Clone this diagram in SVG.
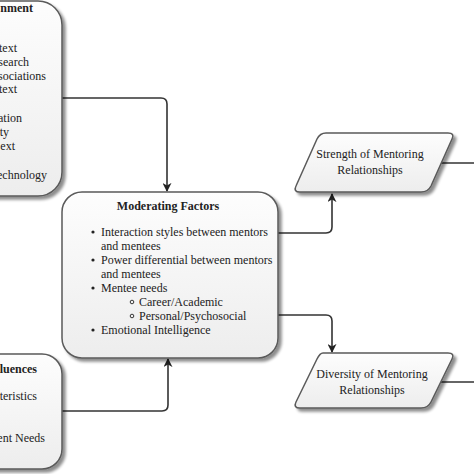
<svg xmlns="http://www.w3.org/2000/svg" width="474" height="474" viewBox="0 0 474 474">
<defs>
<linearGradient id="fillg" x1="0" y1="0" x2="0" y2="1">
<stop offset="0" stop-color="#fdfdfd"/>
<stop offset="1" stop-color="#ededed"/>
</linearGradient>
<filter id="sh" x="-20%" y="-20%" width="140%" height="140%">
<feGaussianBlur in="SourceAlpha" stdDeviation="1.5"/>
<feOffset dx="2.5" dy="2.5" result="b"/>
<feComponentTransfer><feFuncA type="linear" slope="0.45"/></feComponentTransfer>
<feMerge><feMergeNode/><feMergeNode in="SourceGraphic"/></feMerge>
</filter>
<marker id="arr" viewBox="0 0 10 10" refX="9" refY="5" markerWidth="9" markerHeight="9" markerUnits="userSpaceOnUse" orient="auto">
<path d="M0,0 L10,5 L0,10 L3,5 Z" fill="#222"/>
</marker>
</defs>
<style>
.box{fill:url(#fillg);stroke:#5a5a5a;stroke-width:1.5;filter:url(#sh)}
.t{font-family:"Liberation Serif","Times New Roman",serif;font-size:12px;fill:#222}
.b{font-weight:bold}
.c{text-anchor:middle}
.e{text-anchor:end}
.con{fill:none;stroke:#333;stroke-width:1.6;marker-end:url(#arr)}
.ln{fill:none;stroke:#333;stroke-width:1.6}
</style>
<rect width="474" height="474" fill="#fff"/>

<g id="connectors">
<path class="con" d="M62,98 H161 Q167,98 167,104 V191"/>
<path class="con" d="M62,411 H162 Q168,411 168,405 V359"/>
<path class="con" d="M278,233 H326 Q332,233 332,227 V194"/>
<path class="con" d="M278,315 H326 Q332,315 332,321 V352"/>
<path class="ln" d="M441,163 H474"/>
<path class="ln" d="M441,382 H474"/>
</g>

<g id="environment">
<rect class="box" x="-160" y="1" width="222" height="195" rx="24"/>
<text class="t b e" x="33" y="12">nment</text>
<text class="t e" x="17" y="52">text</text>
<text class="t e" x="29" y="66">search</text>
<text class="t e" x="46" y="80">sociations</text>
<text class="t e" x="17" y="93">text</text>
<text class="t e" x="22" y="122">ation</text>
<text class="t e" x="9" y="136">ty</text>
<text class="t e" x="15" y="150">ext</text>
<text class="t e" x="47" y="179">echnology</text>
</g>

<g id="influences">
<rect class="box" x="-160" y="354" width="222" height="115" rx="20"/>
<text class="t b e" x="37" y="373">luences</text>
<text class="t e" x="37" y="400">teristics</text>
<text class="t e" x="45" y="442">ent Needs</text>
</g>

<g id="moderating">
<rect class="box" x="62" y="192" width="216" height="166" rx="20"/>
<text class="t b c" x="168" y="210">Moderating Factors</text>
<g class="t">
<circle cx="93" cy="232" r="1.6" fill="#222"/>
<text x="101" y="236">Interaction styles between mentors</text>
<text x="101" y="250">and mentees</text>
<circle cx="93" cy="260" r="1.6" fill="#222"/>
<text x="101" y="264">Power differential between mentors</text>
<text x="101" y="278">and mentees</text>
<circle cx="93" cy="288" r="1.6" fill="#222"/>
<text x="101" y="292">Mentee needs</text>
<circle cx="132" cy="302" r="1.8" fill="none" stroke="#222" stroke-width="0.9"/>
<text x="139" y="306">Career/Academic</text>
<circle cx="132" cy="316" r="1.8" fill="none" stroke="#222" stroke-width="0.9"/>
<text x="139" y="320">Personal/Psychosocial</text>
<circle cx="93" cy="330" r="1.6" fill="#222"/>
<text x="101" y="334">Emotional Intelligence</text>
</g>
</g>

<g id="strength">
<path class="box" d="M326,133 H448 Q455,133 452,139 L431,186 Q428,192 421,192 H300 Q293,192 296,186 L317,139 Q320,133 326,133 Z"/>
<text class="t c" x="370" y="158">Strength of Mentoring</text>
<text class="t c" x="370" y="174">Relationships</text>
</g>

<g id="diversity">
<path class="box" d="M323,353 H448 Q455,353 452,359 L431,402 Q428,408 421,408 H300 Q293,408 296,402 L317,359 Q320,353 323,353 Z"/>
<text class="t c" x="372" y="378">Diversity of Mentoring</text>
<text class="t c" x="372" y="394">Relationships</text>
</g>
</svg>
